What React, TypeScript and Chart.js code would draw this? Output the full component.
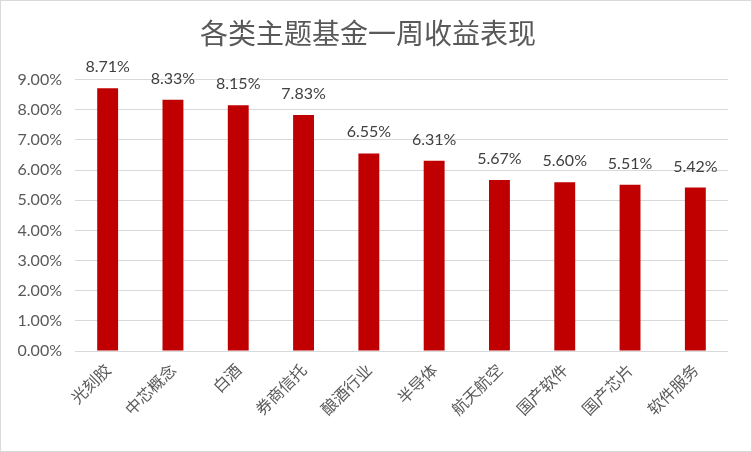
import React, { useEffect, useRef } from "react";
import { Chart, registerables } from "chart.js";

Chart.register(...registerables);

const title = "各类主题基金一周收益表现";
const categories = ["光刻胶", "中芯概念", "白酒", "券商信托", "酿酒行业", "半导体", "航天航空", "国产软件", "国产芯片", "软件服务"];
const returns = [8.71, 8.33, 8.15, 7.83, 6.55, 6.31, 5.67, 5.6, 5.51, 5.42];
const yMax = 9;
const yStep = 1;

const numFont = "Lato, 'Liberation Sans', 'Noto Sans CJK SC', sans-serif";
const cjkFont = "'Noto Sans CJK SC', sans-serif";

const labelPlugin = {
  id: "barLabels",
  afterDatasetsDraw(chart: any) {
    const ctx = chart.ctx;
    const meta = chart.getDatasetMeta(0);
    ctx.save();
    ctx.font = `16px ${numFont}`;
    ctx.fillStyle = "#404040";
    ctx.textAlign = "center";
    ctx.textBaseline = "alphabetic";
    meta.data.forEach((bar: any, i: number) => {
      ctx.fillText(returns[i].toFixed(2) + "%", bar.x, bar.y - 16);
    });
    ctx.restore();
  },
};

const borderPlugin = {
  id: "outerBorder",
  afterDraw(chart: any) {
    const ctx = chart.ctx;
    ctx.save();
    ctx.strokeStyle = "#D9D9D9";
    ctx.lineWidth = 1;
    ctx.strokeRect(0.5, 0.5, chart.width - 1, chart.height - 1);
    ctx.restore();
  },
};

export default function App() {
  const ref = useRef<HTMLCanvasElement>(null);
  useEffect(() => {
    if (!ref.current) return;
    const chart = new Chart(ref.current, {
      type: "bar",
      data: {
        labels: categories,
        datasets: [
          {
            data: returns,
            backgroundColor: "#C00000",
            barPercentage: 0.32,
            categoryPercentage: 1,
          },
        ],
      },
      options: {
        responsive: false,
        animation: false,
        layout: { padding: { left: 8, right: 24, top: 0, bottom: 10 } },
        plugins: {
          legend: { display: false },
          tooltip: { enabled: false },
          title: {
            display: true,
            text: title,
            color: "#595959",
            font: { family: cjkFont, size: 28, weight: "normal", lineHeight: 1.2 },
            padding: { top: 17, bottom: 29 },
          },
        },
        scales: {
          x: {
            grid: { display: false, drawTicks: false },
            border: { display: false },
            ticks: {
              color: "#595959",
              font: { family: cjkFont, size: 16 },
              minRotation: 45,
              maxRotation: 45,
              padding: 9,
              autoSkip: false,
            },
            afterFit(scale: any) {
              scale.height = 91;
            },
          },
          y: {
            min: 0,
            max: yMax,
            grid: { color: "#D9D9D9", lineWidth: 1, drawTicks: false },
            border: { display: false },
            ticks: {
              stepSize: yStep,
              color: "#595959",
              font: { family: numFont, size: 16 },
              padding: 13,
              callback: (v: any) => Number(v).toFixed(2) + "%",
            },
            afterFit(scale: any) {
              scale.width = 67;
            },
          },
        },
      },
      plugins: [labelPlugin, borderPlugin],
    });
    return () => chart.destroy();
  }, []);
  return (
    <div style={{ position: "absolute", left: 0, top: 0, width: 752, height: 452, background: "#fff" }}>
      <canvas ref={ref} width={752} height={452} style={{ display: "block" }} />
    </div>
  );
}
